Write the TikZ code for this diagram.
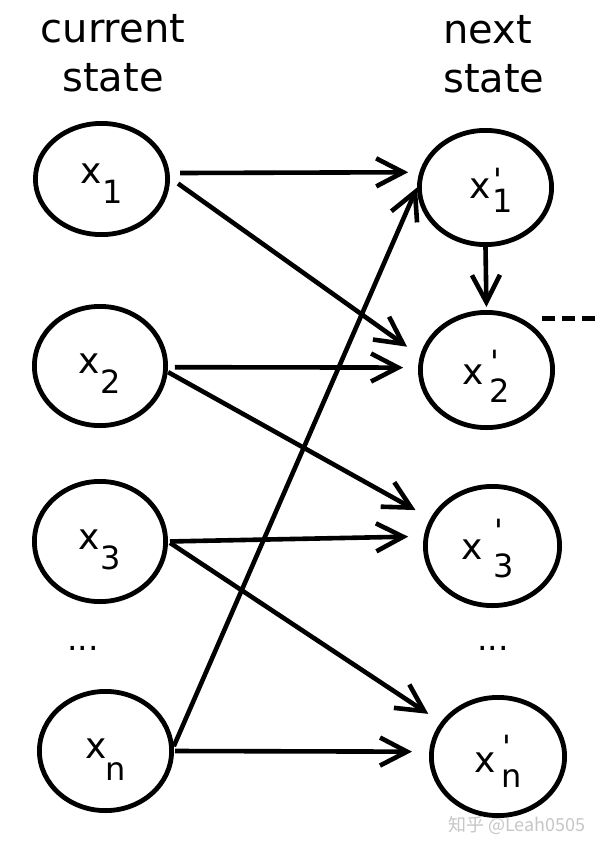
\documentclass[tikz,border=0pt]{standalone}
\usepackage{fontspec}
\usetikzlibrary{arrows.meta,shapes.geometric}
\newfontfamily\dv{DejaVu Sans}
\newfontfamily\cjkwm{Noto Sans CJK SC}
% x with subscript: kern, lowering, subscript
\newcommand{\xsub}[3]{x\kern#1\raisebox{-#2}{\fontsize{32}{32}\selectfont #3}}
% x' with subscript: kern, lowering, prime raise, subscript
\newcommand{\xpr}[4]{x\kern#1\raisebox{-#2}{\fontsize{32}{32}\selectfont\rlap{\kern1pt\raisebox{#3}{'}}#4}}
\tikzset{
  st/.style={ellipse, draw, line width=4.8pt, inner sep=0pt,
    minimum width=132pt, minimum height=119pt,
    font=\dv\fontsize{36}{36}\selectfont},
  ttl/.style={inner sep=0pt, font=\dv\fontsize{40}{49}\selectfont},
  dts/.style={inner sep=0pt, font=\dv\fontsize{33}{33}\selectfont},
  arr/.style={line width=4.6pt, -{Straight Barb[length=27pt,width=28pt]}},
}
\begin{document}
\begin{tikzpicture}[x=1pt,y=-1pt]
\useasboundingbox (0,0) rectangle (600,849);
\fill[white] (0,0) rectangle (600,849);
% titles
\node[ttl, anchor=base, align=center] (cur) at (113,91) {current\\state};
\node[ttl, anchor=base west, align=left] (nxt) at (443,92) {next\\state};
% left column
\node[st, minimum width=132.2pt, minimum height=111.2pt, text height=28pt, text depth=20pt] (x1) at (101.5,179) {\xsub{1pt}{20pt}{1}};
\node[st, minimum width=131.2pt, minimum height=119.2pt, text height=34pt, text depth=20pt] (x2) at (100,366) {\xsub{0.5pt}{20pt}{2}};
\node[st, minimum width=131.2pt, minimum height=120.2pt, text height=35pt, text depth=20pt] (x3) at (100,541.5) {\xsub{0.5pt}{20pt}{3}};
\node[dts] (ldots) at (83,648) {...};
\node[st, minimum width=132.2pt, minimum height=119.2pt, text height=36pt, text depth=22pt] (xn) at (105.5,751) {\xsub{-1.7pt}{22pt}{n}};
% right column
\node[st, minimum width=132.2pt, minimum height=114.2pt, text height=35pt, text depth=14pt] (y1) at (485.5,187.5) {\kern12pt\xpr{1.7pt}{14pt}{21pt}{1}};
\node[st, minimum width=132.2pt, minimum height=115.2pt, text height=46pt, text depth=18pt] (y2) at (486.5,370) {\xpr{5.6pt}{18pt}{29pt}{2}};
\node[st, minimum width=134.2pt, minimum height=119.2pt, text height=44pt, text depth=18pt] (y3) at (492.5,546) {\xpr{11pt}{18pt}{35pt}{3}\kern10pt};
\node[dts] (rdots) at (493,648) {...};
\node[st, minimum width=133.2pt, minimum height=118.2pt, text height=46pt, text depth=15pt] (yn) at (498,756.5) {\xpr{5pt}{15pt}{29pt}{n}};
% connectors
\draw[arr, shorten <=10.4pt, shorten >=11.1pt] (x1.5) -- (y1.167.7);
\draw[arr, shorten <=9.9pt, shorten >=15.8pt] (x1.1.5) -- (y2.168.3);
\draw[arr, shorten <=7pt, shorten >=15pt] (x2.-1.7) -- (y2.178.3);
\draw[arr, shorten <=0.5pt, shorten >=17pt] (x2.-5.7) -- (y3.156.9);
\draw[arr, shorten <=2pt, shorten >=15.7pt] (x3.0) -- (y3.172.3);
\draw[arr, shorten <=2.4pt, shorten >=15pt] (x3.0.7) -- (yn.149.3);
\draw[arr, shorten <=1pt, shorten >=17.2pt] (xn.0) -- (yn.176.3);
\draw[arr] (xn.4) -- (y1.180);
\draw[arr, shorten >=3pt] (y1.south) -- (y2.north);
% dashed continuation
\coordinate (d1) at (542,318);
\coordinate (d2) at (595,318);
\draw[line width=5pt, dash pattern=on 13pt off 7pt] (d1) -- (d2);
% watermark
\node[inner sep=0pt, anchor=base west, text=gray!45, font=\cjkwm\fontsize{18}{18}\selectfont] (wm) at (448,831) {知乎 @Leah0505};
\end{tikzpicture}
\end{document}
